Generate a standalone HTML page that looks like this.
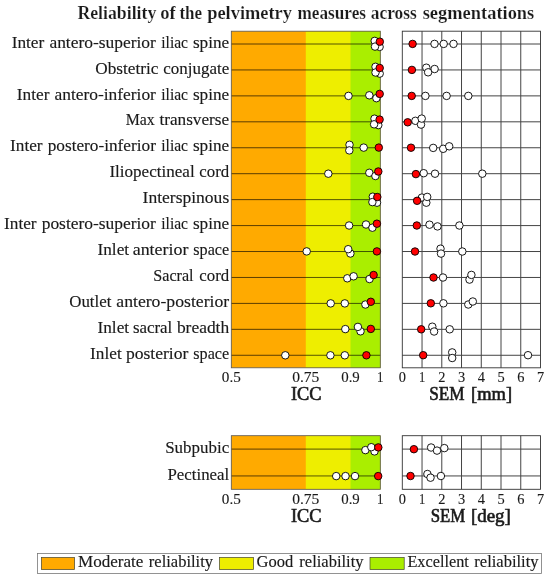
<!DOCTYPE html>
<html lang="en"><head><meta charset="utf-8"><title>Reliability of the pelvimetry measures across segmentations</title>
<style>html,body{margin:0;padding:0;background:#fff}svg{display:block}</style></head>
<body>
<svg width="550" height="578" viewBox="0 0 550 578" font-family='"Liberation Serif", serif' fill="#1a1a1a">
<rect width="550" height="578" fill="#fff"/>
<text y="18.5" font-size="18" font-weight="bold" stroke="#fff" stroke-width="0.18"><tspan x="77.4" textLength="78.9" lengthAdjust="spacingAndGlyphs">Reliability</tspan> <tspan x="160.3" textLength="15.5" lengthAdjust="spacingAndGlyphs">of</tspan> <tspan x="179.4" textLength="22.7" lengthAdjust="spacingAndGlyphs">the</tspan> <tspan x="207.2" textLength="84.8" lengthAdjust="spacingAndGlyphs">pelvimetry</tspan> <tspan x="297.5" textLength="68.5" lengthAdjust="spacingAndGlyphs">measures</tspan> <tspan x="370.8" textLength="45.9" lengthAdjust="spacingAndGlyphs">across</tspan> <tspan x="422.7" textLength="111.6" lengthAdjust="spacingAndGlyphs">segmentations</tspan></text>
<rect x="231.3" y="31.2" width="149.00" height="336.60" fill="#ffaa00"/>
<rect x="305.80" y="31.2" width="74.50" height="336.60" fill="#eeee00"/>
<rect x="350.50" y="31.2" width="29.80" height="336.60" fill="#aaee00"/>
<g stroke="#444" stroke-width="1" fill="none">
<line x1="231.3" y1="44.00" x2="380.3" y2="44.00" stroke="#000" stroke-opacity="0.72" stroke-width="0.9"/>
<line x1="402.3" y1="44.00" x2="540.5" y2="44.00"/>
<line x1="231.3" y1="69.94" x2="380.3" y2="69.94" stroke="#000" stroke-opacity="0.72" stroke-width="0.9"/>
<line x1="402.3" y1="69.94" x2="540.5" y2="69.94"/>
<line x1="231.3" y1="95.88" x2="380.3" y2="95.88" stroke="#000" stroke-opacity="0.72" stroke-width="0.9"/>
<line x1="402.3" y1="95.88" x2="540.5" y2="95.88"/>
<line x1="231.3" y1="121.82" x2="380.3" y2="121.82" stroke="#000" stroke-opacity="0.72" stroke-width="0.9"/>
<line x1="402.3" y1="121.82" x2="540.5" y2="121.82"/>
<line x1="231.3" y1="147.76" x2="380.3" y2="147.76" stroke="#000" stroke-opacity="0.72" stroke-width="0.9"/>
<line x1="402.3" y1="147.76" x2="540.5" y2="147.76"/>
<line x1="231.3" y1="173.70" x2="380.3" y2="173.70" stroke="#000" stroke-opacity="0.72" stroke-width="0.9"/>
<line x1="402.3" y1="173.70" x2="540.5" y2="173.70"/>
<line x1="231.3" y1="199.64" x2="380.3" y2="199.64" stroke="#000" stroke-opacity="0.72" stroke-width="0.9"/>
<line x1="402.3" y1="199.64" x2="540.5" y2="199.64"/>
<line x1="231.3" y1="225.58" x2="380.3" y2="225.58" stroke="#000" stroke-opacity="0.72" stroke-width="0.9"/>
<line x1="402.3" y1="225.58" x2="540.5" y2="225.58"/>
<line x1="231.3" y1="251.52" x2="380.3" y2="251.52" stroke="#000" stroke-opacity="0.72" stroke-width="0.9"/>
<line x1="402.3" y1="251.52" x2="540.5" y2="251.52"/>
<line x1="231.3" y1="277.46" x2="380.3" y2="277.46" stroke="#000" stroke-opacity="0.72" stroke-width="0.9"/>
<line x1="402.3" y1="277.46" x2="540.5" y2="277.46"/>
<line x1="231.3" y1="303.40" x2="380.3" y2="303.40" stroke="#000" stroke-opacity="0.72" stroke-width="0.9"/>
<line x1="402.3" y1="303.40" x2="540.5" y2="303.40"/>
<line x1="231.3" y1="329.34" x2="380.3" y2="329.34" stroke="#000" stroke-opacity="0.72" stroke-width="0.9"/>
<line x1="402.3" y1="329.34" x2="540.5" y2="329.34"/>
<line x1="231.3" y1="355.28" x2="380.3" y2="355.28" stroke="#000" stroke-opacity="0.72" stroke-width="0.9"/>
<line x1="402.3" y1="355.28" x2="540.5" y2="355.28"/>
<line x1="422.04" y1="31.2" x2="422.04" y2="367.8"/>
<line x1="441.79" y1="31.2" x2="441.79" y2="367.8"/>
<line x1="461.53" y1="31.2" x2="461.53" y2="367.8"/>
<line x1="481.27" y1="31.2" x2="481.27" y2="367.8"/>
<line x1="501.01" y1="31.2" x2="501.01" y2="367.8"/>
<line x1="520.76" y1="31.2" x2="520.76" y2="367.8"/>
<rect x="231.3" y="31.2" width="149.00" height="336.60" stroke="#555" stroke-width="0.8"/>
<rect x="402.3" y="31.2" width="138.20" height="336.60" stroke="#333" stroke-width="0.9"/>
</g>
<rect x="231.3" y="435.7" width="149.00" height="53.60" fill="#ffaa00"/>
<rect x="305.80" y="435.7" width="74.50" height="53.60" fill="#eeee00"/>
<rect x="350.50" y="435.7" width="29.80" height="53.60" fill="#aaee00"/>
<g stroke="#444" stroke-width="1" fill="none">
<line x1="231.3" y1="449.10" x2="380.3" y2="449.10" stroke="#000" stroke-opacity="0.72" stroke-width="0.9"/>
<line x1="402.3" y1="449.10" x2="540.5" y2="449.10"/>
<line x1="231.3" y1="475.95" x2="380.3" y2="475.95" stroke="#000" stroke-opacity="0.72" stroke-width="0.9"/>
<line x1="402.3" y1="475.95" x2="540.5" y2="475.95"/>
<line x1="422.04" y1="435.7" x2="422.04" y2="489.3"/>
<line x1="441.79" y1="435.7" x2="441.79" y2="489.3"/>
<line x1="461.53" y1="435.7" x2="461.53" y2="489.3"/>
<line x1="481.27" y1="435.7" x2="481.27" y2="489.3"/>
<line x1="501.01" y1="435.7" x2="501.01" y2="489.3"/>
<line x1="520.76" y1="435.7" x2="520.76" y2="489.3"/>
<rect x="231.3" y="435.7" width="149.00" height="53.60" stroke="#555" stroke-width="0.8"/>
<rect x="402.3" y="435.7" width="138.20" height="53.60" stroke="#333" stroke-width="0.9"/>
</g>
<g stroke="#000" stroke-width="0.9">
<circle cx="374.7" cy="40.9" r="3.75" fill="#ffffff"/>
<circle cx="379.6" cy="46.9" r="3.75" fill="#ffffff"/>
<circle cx="375.0" cy="46.6" r="3.75" fill="#ffffff"/>
<circle cx="379.8" cy="41.7" r="3.75" fill="#ff0000"/>
<circle cx="375.5" cy="66.8" r="3.75" fill="#ffffff"/>
<circle cx="379.7" cy="73.6" r="3.75" fill="#ffffff"/>
<circle cx="375.5" cy="72.5" r="3.75" fill="#ffffff"/>
<circle cx="379.7" cy="68.0" r="3.75" fill="#ff0000"/>
<circle cx="348.5" cy="95.9" r="3.75" fill="#ffffff"/>
<circle cx="369.3" cy="95.3" r="3.75" fill="#ffffff"/>
<circle cx="376.4" cy="98.2" r="3.75" fill="#ffffff"/>
<circle cx="379.7" cy="93.9" r="3.75" fill="#ff0000"/>
<circle cx="374.5" cy="118.7" r="3.75" fill="#ffffff"/>
<circle cx="378.3" cy="125.1" r="3.75" fill="#ffffff"/>
<circle cx="374.1" cy="124.3" r="3.75" fill="#ffffff"/>
<circle cx="379.6" cy="119.6" r="3.75" fill="#ff0000"/>
<circle cx="349.5" cy="144.8" r="3.75" fill="#ffffff"/>
<circle cx="349.3" cy="150.4" r="3.75" fill="#ffffff"/>
<circle cx="363.7" cy="147.6" r="3.75" fill="#ffffff"/>
<circle cx="378.8" cy="147.6" r="3.75" fill="#ff0000"/>
<circle cx="328.3" cy="173.7" r="3.75" fill="#ffffff"/>
<circle cx="369.3" cy="172.8" r="3.75" fill="#ffffff"/>
<circle cx="375.4" cy="176.0" r="3.75" fill="#ffffff"/>
<circle cx="378.3" cy="171.5" r="3.75" fill="#ff0000"/>
<circle cx="372.8" cy="196.7" r="3.75" fill="#ffffff"/>
<circle cx="377.0" cy="202.7" r="3.75" fill="#ffffff"/>
<circle cx="372.4" cy="202.1" r="3.75" fill="#ffffff"/>
<circle cx="377.3" cy="197.0" r="3.75" fill="#ff0000"/>
<circle cx="349.1" cy="225.5" r="3.75" fill="#ffffff"/>
<circle cx="366.0" cy="224.5" r="3.75" fill="#ffffff"/>
<circle cx="372.4" cy="227.7" r="3.75" fill="#ffffff"/>
<circle cx="376.9" cy="223.7" r="3.75" fill="#ff0000"/>
<circle cx="306.7" cy="251.4" r="3.75" fill="#ffffff"/>
<circle cx="350.4" cy="253.5" r="3.75" fill="#ffffff"/>
<circle cx="348.2" cy="249.2" r="3.75" fill="#ffffff"/>
<circle cx="376.9" cy="251.4" r="3.75" fill="#ff0000"/>
<circle cx="347.3" cy="278.3" r="3.75" fill="#ffffff"/>
<circle cx="353.6" cy="276.3" r="3.75" fill="#ffffff"/>
<circle cx="369.5" cy="279.0" r="3.75" fill="#ffffff"/>
<circle cx="373.6" cy="275.0" r="3.75" fill="#ff0000"/>
<circle cx="330.7" cy="303.4" r="3.75" fill="#ffffff"/>
<circle cx="344.8" cy="303.4" r="3.75" fill="#ffffff"/>
<circle cx="365.4" cy="304.5" r="3.75" fill="#ffffff"/>
<circle cx="370.8" cy="301.8" r="3.75" fill="#ff0000"/>
<circle cx="345.3" cy="329.1" r="3.75" fill="#ffffff"/>
<circle cx="360.5" cy="331.3" r="3.75" fill="#ffffff"/>
<circle cx="357.9" cy="326.9" r="3.75" fill="#ffffff"/>
<circle cx="370.8" cy="328.9" r="3.75" fill="#ff0000"/>
<circle cx="285.3" cy="355.3" r="3.75" fill="#ffffff"/>
<circle cx="330.4" cy="355.3" r="3.75" fill="#ffffff"/>
<circle cx="344.8" cy="355.3" r="3.75" fill="#ffffff"/>
<circle cx="366.4" cy="355.3" r="3.75" fill="#ff0000"/>
<circle cx="434.5" cy="43.9" r="3.75" fill="#ffffff"/>
<circle cx="443.7" cy="43.9" r="3.75" fill="#ffffff"/>
<circle cx="453.5" cy="43.9" r="3.75" fill="#ffffff"/>
<circle cx="412.6" cy="43.9" r="3.75" fill="#ff0000"/>
<circle cx="426.3" cy="67.7" r="3.75" fill="#ffffff"/>
<circle cx="434.6" cy="69.0" r="3.75" fill="#ffffff"/>
<circle cx="428.1" cy="72.3" r="3.75" fill="#ffffff"/>
<circle cx="411.9" cy="69.9" r="3.75" fill="#ff0000"/>
<circle cx="425.4" cy="95.9" r="3.75" fill="#ffffff"/>
<circle cx="446.6" cy="95.9" r="3.75" fill="#ffffff"/>
<circle cx="468.3" cy="95.9" r="3.75" fill="#ffffff"/>
<circle cx="411.7" cy="95.9" r="3.75" fill="#ff0000"/>
<circle cx="415.4" cy="120.8" r="3.75" fill="#ffffff"/>
<circle cx="421.0" cy="124.6" r="3.75" fill="#ffffff"/>
<circle cx="421.7" cy="118.6" r="3.75" fill="#ffffff"/>
<circle cx="407.7" cy="122.3" r="3.75" fill="#ff0000"/>
<circle cx="433.2" cy="147.9" r="3.75" fill="#ffffff"/>
<circle cx="443.2" cy="148.8" r="3.75" fill="#ffffff"/>
<circle cx="449.2" cy="146.3" r="3.75" fill="#ffffff"/>
<circle cx="411.0" cy="147.7" r="3.75" fill="#ff0000"/>
<circle cx="423.7" cy="173.2" r="3.75" fill="#ffffff"/>
<circle cx="435.0" cy="173.7" r="3.75" fill="#ffffff"/>
<circle cx="482.3" cy="173.7" r="3.75" fill="#ffffff"/>
<circle cx="415.9" cy="174.1" r="3.75" fill="#ff0000"/>
<circle cx="421.9" cy="197.6" r="3.75" fill="#ffffff"/>
<circle cx="426.3" cy="202.7" r="3.75" fill="#ffffff"/>
<circle cx="427.2" cy="196.9" r="3.75" fill="#ffffff"/>
<circle cx="417.1" cy="200.8" r="3.75" fill="#ff0000"/>
<circle cx="429.5" cy="224.7" r="3.75" fill="#ffffff"/>
<circle cx="437.5" cy="226.4" r="3.75" fill="#ffffff"/>
<circle cx="459.4" cy="225.5" r="3.75" fill="#ffffff"/>
<circle cx="416.8" cy="225.5" r="3.75" fill="#ff0000"/>
<circle cx="440.5" cy="248.7" r="3.75" fill="#ffffff"/>
<circle cx="441.0" cy="253.6" r="3.75" fill="#ffffff"/>
<circle cx="462.3" cy="251.5" r="3.75" fill="#ffffff"/>
<circle cx="415.0" cy="251.5" r="3.75" fill="#ff0000"/>
<circle cx="443.0" cy="277.5" r="3.75" fill="#ffffff"/>
<circle cx="469.5" cy="279.6" r="3.75" fill="#ffffff"/>
<circle cx="471.4" cy="274.9" r="3.75" fill="#ffffff"/>
<circle cx="433.5" cy="277.5" r="3.75" fill="#ff0000"/>
<circle cx="443.4" cy="303.3" r="3.75" fill="#ffffff"/>
<circle cx="468.3" cy="304.5" r="3.75" fill="#ffffff"/>
<circle cx="472.8" cy="301.5" r="3.75" fill="#ffffff"/>
<circle cx="430.8" cy="303.3" r="3.75" fill="#ff0000"/>
<circle cx="432.3" cy="326.7" r="3.75" fill="#ffffff"/>
<circle cx="434.1" cy="331.5" r="3.75" fill="#ffffff"/>
<circle cx="449.7" cy="329.3" r="3.75" fill="#ffffff"/>
<circle cx="421.2" cy="329.3" r="3.75" fill="#ff0000"/>
<circle cx="452.2" cy="352.4" r="3.75" fill="#ffffff"/>
<circle cx="452.2" cy="358.0" r="3.75" fill="#ffffff"/>
<circle cx="528.0" cy="355.2" r="3.75" fill="#ffffff"/>
<circle cx="423.2" cy="355.2" r="3.75" fill="#ff0000"/>
<circle cx="365.4" cy="450.1" r="3.75" fill="#ffffff"/>
<circle cx="374.5" cy="451.4" r="3.75" fill="#ffffff"/>
<circle cx="371.3" cy="447.2" r="3.75" fill="#ffffff"/>
<circle cx="378.3" cy="447.4" r="3.75" fill="#ff0000"/>
<circle cx="336.2" cy="476.1" r="3.75" fill="#ffffff"/>
<circle cx="345.5" cy="476.1" r="3.75" fill="#ffffff"/>
<circle cx="355.0" cy="476.1" r="3.75" fill="#ffffff"/>
<circle cx="378.2" cy="476.1" r="3.75" fill="#ff0000"/>
<circle cx="431.1" cy="447.5" r="3.75" fill="#ffffff"/>
<circle cx="437.0" cy="450.6" r="3.75" fill="#ffffff"/>
<circle cx="444.3" cy="448.1" r="3.75" fill="#ffffff"/>
<circle cx="413.9" cy="449.2" r="3.75" fill="#ff0000"/>
<circle cx="427.4" cy="474.0" r="3.75" fill="#ffffff"/>
<circle cx="430.5" cy="477.7" r="3.75" fill="#ffffff"/>
<circle cx="440.9" cy="476.0" r="3.75" fill="#ffffff"/>
<circle cx="410.5" cy="476.0" r="3.75" fill="#ff0000"/>
</g>
<text y="47.6" font-size="17" stroke="#1a1a1a" stroke-width="0.15"><tspan x="11.7" textLength="32.6" lengthAdjust="spacingAndGlyphs">Inter</tspan> <tspan x="49.4" textLength="106.5" lengthAdjust="spacingAndGlyphs">antero-superior</tspan> <tspan x="161.3" textLength="26.7" lengthAdjust="spacingAndGlyphs">iliac</tspan> <tspan x="192.9" textLength="36.3" lengthAdjust="spacingAndGlyphs">spine</tspan></text>
<text y="73.5" font-size="17" stroke="#1a1a1a" stroke-width="0.15"><tspan x="95.3" textLength="63.2" lengthAdjust="spacingAndGlyphs">Obstetric</tspan> <tspan x="163.3" textLength="65.9" lengthAdjust="spacingAndGlyphs">conjugate</tspan></text>
<text y="99.5" font-size="17" stroke="#1a1a1a" stroke-width="0.15"><tspan x="16.8" textLength="32.6" lengthAdjust="spacingAndGlyphs">Inter</tspan> <tspan x="54.5" textLength="101.4" lengthAdjust="spacingAndGlyphs">antero-inferior</tspan> <tspan x="161.3" textLength="26.7" lengthAdjust="spacingAndGlyphs">iliac</tspan> <tspan x="192.9" textLength="36.3" lengthAdjust="spacingAndGlyphs">spine</tspan></text>
<text y="125.4" font-size="17" stroke="#1a1a1a" stroke-width="0.15"><tspan x="125.7" textLength="29.0" lengthAdjust="spacingAndGlyphs">Max</tspan> <tspan x="159.4" textLength="69.8" lengthAdjust="spacingAndGlyphs">transverse</tspan></text>
<text y="151.4" font-size="17" stroke="#1a1a1a" stroke-width="0.15"><tspan x="10.0" textLength="32.6" lengthAdjust="spacingAndGlyphs">Inter</tspan> <tspan x="47.7" textLength="108.2" lengthAdjust="spacingAndGlyphs">postero-inferior</tspan> <tspan x="161.3" textLength="26.7" lengthAdjust="spacingAndGlyphs">iliac</tspan> <tspan x="192.9" textLength="36.3" lengthAdjust="spacingAndGlyphs">spine</tspan></text>
<text y="177.3" font-size="17" stroke="#1a1a1a" stroke-width="0.15"><tspan x="109.4" textLength="85.3" lengthAdjust="spacingAndGlyphs">Iliopectineal</tspan> <tspan x="199.3" textLength="29.9" lengthAdjust="spacingAndGlyphs">cord</tspan></text>
<text y="203.2" font-size="17" stroke="#1a1a1a" stroke-width="0.15"><tspan x="142.6" textLength="86.6" lengthAdjust="spacingAndGlyphs">Interspinous</tspan></text>
<text y="229.2" font-size="17" stroke="#1a1a1a" stroke-width="0.15"><tspan x="4.0" textLength="32.6" lengthAdjust="spacingAndGlyphs">Inter</tspan> <tspan x="41.7" textLength="114.2" lengthAdjust="spacingAndGlyphs">postero-superior</tspan> <tspan x="161.3" textLength="26.7" lengthAdjust="spacingAndGlyphs">iliac</tspan> <tspan x="192.9" textLength="36.3" lengthAdjust="spacingAndGlyphs">spine</tspan></text>
<text y="255.1" font-size="17" stroke="#1a1a1a" stroke-width="0.15"><tspan x="97.5" textLength="31.6" lengthAdjust="spacingAndGlyphs">Inlet</tspan> <tspan x="132.7" textLength="55.7" lengthAdjust="spacingAndGlyphs">anterior</tspan> <tspan x="193.3" textLength="35.9" lengthAdjust="spacingAndGlyphs">space</tspan></text>
<text y="281.1" font-size="17" stroke="#1a1a1a" stroke-width="0.15"><tspan x="153.3" textLength="40.3" lengthAdjust="spacingAndGlyphs">Sacral</tspan> <tspan x="199.3" textLength="29.9" lengthAdjust="spacingAndGlyphs">cord</tspan></text>
<text y="307.0" font-size="17" stroke="#1a1a1a" stroke-width="0.15"><tspan x="69.2" textLength="42.3" lengthAdjust="spacingAndGlyphs">Outlet</tspan> <tspan x="116.3" textLength="112.9" lengthAdjust="spacingAndGlyphs">antero-posterior</tspan></text>
<text y="332.9" font-size="17" stroke="#1a1a1a" stroke-width="0.15"><tspan x="97.5" textLength="31.6" lengthAdjust="spacingAndGlyphs">Inlet</tspan> <tspan x="132.9" textLength="39.4" lengthAdjust="spacingAndGlyphs">sacral</tspan> <tspan x="176.9" textLength="52.3" lengthAdjust="spacingAndGlyphs">breadth</tspan></text>
<text y="358.9" font-size="17" stroke="#1a1a1a" stroke-width="0.15"><tspan x="90.1" textLength="31.6" lengthAdjust="spacingAndGlyphs">Inlet</tspan> <tspan x="125.9" textLength="62.5" lengthAdjust="spacingAndGlyphs">posterior</tspan> <tspan x="193.3" textLength="35.9" lengthAdjust="spacingAndGlyphs">space</tspan></text>
<text y="452.7" font-size="17" stroke="#1a1a1a" stroke-width="0.15"><tspan x="165.2" textLength="64.0" lengthAdjust="spacingAndGlyphs">Subpubic</tspan></text>
<text y="479.6" font-size="17" stroke="#1a1a1a" stroke-width="0.15"><tspan x="167.5" textLength="61.7" lengthAdjust="spacingAndGlyphs">Pectineal</tspan></text>
<text x="221.8" y="382.3" font-size="14" textLength="19.0" lengthAdjust="spacingAndGlyphs" stroke="#1a1a1a" stroke-width="0.12">0.5</text>
<text x="292.2" y="382.3" font-size="14" textLength="27.2" lengthAdjust="spacingAndGlyphs" stroke="#1a1a1a" stroke-width="0.12">0.75</text>
<text x="341.2" y="382.3" font-size="14" textLength="18.6" lengthAdjust="spacingAndGlyphs" stroke="#1a1a1a" stroke-width="0.12">0.9</text>
<text x="377.1" y="382.3" font-size="14" textLength="6.4" lengthAdjust="spacingAndGlyphs" stroke="#1a1a1a" stroke-width="0.12">1</text>
<text x="398.7" y="382.3" font-size="14" textLength="7.2" lengthAdjust="spacingAndGlyphs" stroke="#1a1a1a" stroke-width="0.12">0</text>
<text x="418.9" y="382.3" font-size="14" textLength="6.2" lengthAdjust="spacingAndGlyphs" stroke="#1a1a1a" stroke-width="0.12">1</text>
<text x="438.2" y="382.3" font-size="14" textLength="7.2" lengthAdjust="spacingAndGlyphs" stroke="#1a1a1a" stroke-width="0.12">2</text>
<text x="457.9" y="382.3" font-size="14" textLength="7.2" lengthAdjust="spacingAndGlyphs" stroke="#1a1a1a" stroke-width="0.12">3</text>
<text x="477.7" y="382.3" font-size="14" textLength="7.2" lengthAdjust="spacingAndGlyphs" stroke="#1a1a1a" stroke-width="0.12">4</text>
<text x="497.4" y="382.3" font-size="14" textLength="7.2" lengthAdjust="spacingAndGlyphs" stroke="#1a1a1a" stroke-width="0.12">5</text>
<text x="517.2" y="382.3" font-size="14" textLength="7.2" lengthAdjust="spacingAndGlyphs" stroke="#1a1a1a" stroke-width="0.12">6</text>
<text x="536.9" y="382.3" font-size="14" textLength="7.2" lengthAdjust="spacingAndGlyphs" stroke="#1a1a1a" stroke-width="0.12">7</text>
<text x="290.9" y="399.9" font-size="18" textLength="30.6" lengthAdjust="spacingAndGlyphs" stroke="#1a1a1a" stroke-width="0.6">ICC</text>
<text y="399.9" font-size="18" stroke="#1a1a1a" stroke-width="0.6"><tspan x="429.2" textLength="35.3" lengthAdjust="spacingAndGlyphs">SEM</tspan> <tspan x="471.1" textLength="41.0" lengthAdjust="spacingAndGlyphs">[mm]</tspan></text>
<text x="221.8" y="503.8" font-size="14" textLength="19.0" lengthAdjust="spacingAndGlyphs" stroke="#1a1a1a" stroke-width="0.12">0.5</text>
<text x="292.2" y="503.8" font-size="14" textLength="27.2" lengthAdjust="spacingAndGlyphs" stroke="#1a1a1a" stroke-width="0.12">0.75</text>
<text x="341.2" y="503.8" font-size="14" textLength="18.6" lengthAdjust="spacingAndGlyphs" stroke="#1a1a1a" stroke-width="0.12">0.9</text>
<text x="377.1" y="503.8" font-size="14" textLength="6.4" lengthAdjust="spacingAndGlyphs" stroke="#1a1a1a" stroke-width="0.12">1</text>
<text x="398.7" y="503.8" font-size="14" textLength="7.2" lengthAdjust="spacingAndGlyphs" stroke="#1a1a1a" stroke-width="0.12">0</text>
<text x="418.9" y="503.8" font-size="14" textLength="6.2" lengthAdjust="spacingAndGlyphs" stroke="#1a1a1a" stroke-width="0.12">1</text>
<text x="438.2" y="503.8" font-size="14" textLength="7.2" lengthAdjust="spacingAndGlyphs" stroke="#1a1a1a" stroke-width="0.12">2</text>
<text x="457.9" y="503.8" font-size="14" textLength="7.2" lengthAdjust="spacingAndGlyphs" stroke="#1a1a1a" stroke-width="0.12">3</text>
<text x="477.7" y="503.8" font-size="14" textLength="7.2" lengthAdjust="spacingAndGlyphs" stroke="#1a1a1a" stroke-width="0.12">4</text>
<text x="497.4" y="503.8" font-size="14" textLength="7.2" lengthAdjust="spacingAndGlyphs" stroke="#1a1a1a" stroke-width="0.12">5</text>
<text x="517.2" y="503.8" font-size="14" textLength="7.2" lengthAdjust="spacingAndGlyphs" stroke="#1a1a1a" stroke-width="0.12">6</text>
<text x="536.9" y="503.8" font-size="14" textLength="7.2" lengthAdjust="spacingAndGlyphs" stroke="#1a1a1a" stroke-width="0.12">7</text>
<text x="290.9" y="521.5" font-size="18" textLength="30.6" lengthAdjust="spacingAndGlyphs" stroke="#1a1a1a" stroke-width="0.6">ICC</text>
<text y="521.5" font-size="18" stroke="#1a1a1a" stroke-width="0.6"><tspan x="430.7" textLength="34.6" lengthAdjust="spacingAndGlyphs">SEM</tspan> <tspan x="470.9" textLength="40.0" lengthAdjust="spacingAndGlyphs">[deg]</tspan></text>
<rect x="37.4" y="553.6" width="504.1" height="20" fill="#fff" stroke="#777" stroke-width="0.8"/>
<rect x="41.4" y="557.4" width="33.2" height="12.2" fill="#ffaa00" stroke="#443" stroke-width="0.7"/>
<rect x="219.5" y="557.4" width="34.1" height="12.2" fill="#eeee00" stroke="#443" stroke-width="0.7"/>
<rect x="370" y="557.4" width="34.2" height="12.2" fill="#aaee00" stroke="#443" stroke-width="0.7"/>
<text y="567.3" font-size="17" stroke="#1a1a1a" stroke-width="0.15"><tspan x="78.0" textLength="65.4" lengthAdjust="spacingAndGlyphs">Moderate</tspan> <tspan x="148.8" textLength="64.2" lengthAdjust="spacingAndGlyphs">reliability</tspan></text>
<text y="567.3" font-size="17" stroke="#1a1a1a" stroke-width="0.15"><tspan x="256.6" textLength="36.7" lengthAdjust="spacingAndGlyphs">Good</tspan> <tspan x="299.3" textLength="64.2" lengthAdjust="spacingAndGlyphs">reliability</tspan></text>
<text y="567.3" font-size="17" stroke="#1a1a1a" stroke-width="0.15"><tspan x="407.4" textLength="61.5" lengthAdjust="spacingAndGlyphs">Excellent</tspan> <tspan x="474.3" textLength="64.2" lengthAdjust="spacingAndGlyphs">reliability</tspan></text>
</svg>
</body></html>
